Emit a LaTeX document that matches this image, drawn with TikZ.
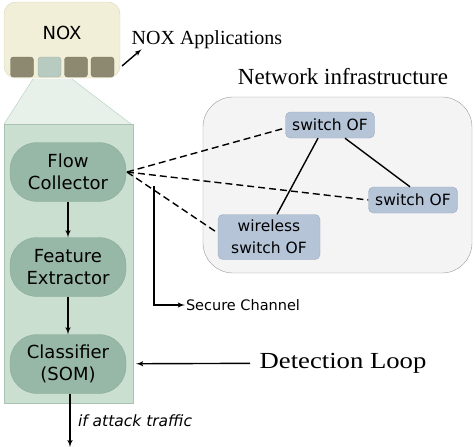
\documentclass[tikz,border=0pt]{standalone}
\usepackage{fontspec}
\setmainfont{Liberation Serif}
\setsansfont{DejaVu Sans}
\newfontfamily\loopfont{Liberation Serif}[FakeStretch=1.16]
\usetikzlibrary{arrows}
\definecolor{noxcream}{HTML}{F2EFD9}
\definecolor{noxedge}{HTML}{D9D4B9}
\definecolor{appdark}{HTML}{8D8870}
\definecolor{applight}{HTML}{B7CBC1}
\definecolor{zoomfill}{HTML}{E7F1E9}
\definecolor{zoomedge}{HTML}{B3CDBD}
\definecolor{panelfill}{HTML}{CADFD0}
\definecolor{paneledge}{HTML}{A8C4B1}
\definecolor{modfill}{HTML}{98B8A7}
\definecolor{modedge}{HTML}{88A997}
\definecolor{netfill}{HTML}{F4F4F4}
\definecolor{netedge}{HTML}{9A9A9A}
\definecolor{swfill}{HTML}{B5C4D7}
\definecolor{swedge}{HTML}{9AA9BD}

\begin{document}
\begin{tikzpicture}[x=1pt,y=-1pt,>=latex',
 module/.style={draw=modedge, fill=modfill, rounded corners=27pt, minimum width=116pt, minimum height=59pt,
   align=center, font=\sffamily\fontsize{18}{22}\selectfont},
 switchbox/.style={draw=swedge, fill=swfill, rounded corners=5pt, inner sep=2pt, align=center,
   font=\sffamily\fontsize{15.5}{22}\selectfont},
 appslot/.style={rounded corners=3pt, minimum width=23pt, minimum height=20pt, inner sep=0},
 link/.style={line width=1.4pt}]
\useasboundingbox (0,0) rectangle (474,447);
% NOX controller and its applications
\node[draw=noxedge, fill=noxcream, rounded corners=12pt, minimum width=116pt, minimum height=76pt] (nox) at (62,40) {};
\node[font=\sffamily\fontsize{18}{20}\selectfont] (noxlabel) at (62,33) {NOX};
\foreach \x/\c [count=\i] in {22/appdark, 49.5/applight, 76/appdark, 102.5/appdark} {
 \node[appslot, fill=\c, draw=\c!85!black] (app\i) at (\x,67) {};
}
\node[inner sep=0, font=\fontsize{20}{22}\selectfont] (apps) at (207,40) {NOX Applications};
\coordinate (appsfoot) at (122,66);
\draw[->, link] (appsfoot) -- ([xshift=10pt]apps.south west);
% zoom on the detection module
\fill[zoomfill] (33,79) -- (72,79) -- (131,124) -- (4,124) -- cycle;
\draw[zoomedge] (33,79) -- (4,124) (72,79) -- (131,124);
\draw[paneledge, fill=panelfill] (4,124) rectangle (133,403);
\node[module] (flow) at (68,172) {Flow\\Collector};
\node[module] (feat) at (68,267) {Feature\\Extractor};
\node[module] (som) at (68,364) {Classifier\\(SOM)};
\draw[->, link] (flow) -- (feat);
\draw[->, link] (feat) -- (som);
\coordinate (attack) at (70,447);
\path (som.south) ++(2,0) coordinate (somfoot);
\draw[->, link] (somfoot) -- (attack) node[pos=.5, right, xshift=4pt, font=\sffamily\itshape\fontsize{15.5}{18}\selectfont] (attacklabel) {if attack traffic};
% detection loop
\node[font=\loopfont\fontsize{23}{26}\selectfont] (loop) at (343,363) {Detection Loop};
\draw[->, link, shorten <=6pt, shorten >=10pt] (loop) -- (som);
% network infrastructure
\draw[netedge, fill=netfill, rounded corners=30pt] (203,97) rectangle (472,273);
\node[font=\fontsize{23}{25}\selectfont] (netlabel) at (343,77) {Network infrastructure};
\node[switchbox, minimum width=89pt, minimum height=26pt] (sw1) at (330,125) {switch OF};
\node[switchbox, minimum width=89pt, minimum height=26pt] (sw2) at (413,200) {switch OF};
\node[switchbox, minimum width=102pt, minimum height=45pt] (sw3) at (269,237) {wireless\\switch OF};
\draw[link] ([xshift=-12pt]sw1.south) -- ([xshift=8pt]sw3.north);
\draw[link] ([xshift=15pt]sw1.south) -- ([xshift=-3pt]sw2.north);
% secure channel
\coordinate (fc) at (127,172);
\foreach \t/\dy in {sw1/-3, sw2/0, sw3/4} {
 \draw[link, dash pattern=on 7pt off 4pt] (fc) -- ([yshift=\dy pt]\t.west);
}
\node[font=\sffamily\fontsize{14.5}{16}\selectfont, inner sep=1pt] (secure) at (243,305) {Secure Channel};
\coordinate (scstart) at (154,186);
\draw[->, link] (scstart) |- (secure.west);
\end{tikzpicture}
\end{document}
